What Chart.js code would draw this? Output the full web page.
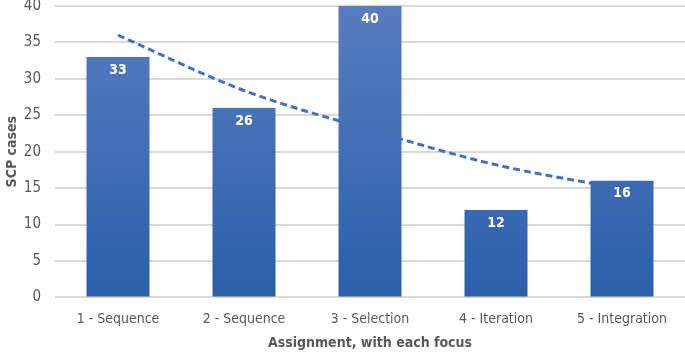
<!DOCTYPE html>
<html>
<head>
<meta charset="utf-8">
<script src="https://cdn.jsdelivr.net/npm/chart.js@4"></script>
<style>
  html, body { margin: 0; padding: 0; background: #fff; }
  #wrap { width: 685px; height: 354px; }
</style>
</head>
<body>
<div id="wrap"><canvas id="barChart"></canvas></div>
<script>
var categories = ['1 - Sequence', '2 - Sequence', '3 - Selection', '4 - Iteration', '5 - Integration'];
var scpCases = [33, 26, 40, 12, 16];
var trendValues = [36, 28.4, 23, 18.2, 14.9];
var yTicks = [0, 5, 10, 15, 20, 25, 30, 35, 40];

var fontFamily = '"DejaVu Sans Condensed", "Liberation Sans Narrow", "Liberation Sans", sans-serif';
var textGrey = '#595959';

// white numbers just under the top of each bar
var barLabels = {
    id: 'barLabels',
    afterDatasetsDraw: function (chart) {
        var ctx = chart.ctx;
        var meta = chart.getDatasetMeta(0);
        ctx.save();
        ctx.fillStyle = '#ffffff';
        ctx.font = 'bold 14px ' + fontFamily;
        ctx.textAlign = 'center';
        ctx.textBaseline = 'middle';
        meta.data.forEach(function (bar, i) {
            ctx.fillText(scpCases[i], bar.x, bar.y + 13);
        });
        ctx.restore();
    }
};

function barGradient(context) {
    var area = context.chart.chartArea;
    if (!area) return '#3a68b4';
    var g = context.chart.ctx.createLinearGradient(0, area.top, 0, area.bottom);
    g.addColorStop(0, '#587cc0');
    g.addColorStop(1, '#2a5faa');
    return g;
}

var barChartCanvas = document.getElementById('barChart').getContext('2d');
var barChart = new Chart(barChartCanvas, {
    data: {
        labels: categories,
        datasets: [
            {
                type: 'bar',
                data: scpCases,
                backgroundColor: barGradient,
                barPercentage: 0.5,
                categoryPercentage: 1,
                order: 0
            },
            {
                type: 'line',
                data: trendValues,
                borderColor: '#4472c4',
                borderWidth: 3,
                borderDash: [7, 4],
                pointRadius: 0,
                fill: false,
                cubicInterpolationMode: 'monotone',
                order: 2
            }
        ]
    },
    options: {
        responsive: true,
        maintainAspectRatio: false,
        animation: false,
        layout: { padding: { top: 0, right: 0, left: 4, bottom: 2 } },
        plugins: { legend: { display: false }, tooltip: { enabled: false } },
        scales: {
            x: {
                grid: { display: false },
                border: { display: false },
                ticks: { color: textGrey, font: { family: fontFamily, size: 14 }, padding: 6 },
                title: {
                    display: true, text: 'Assignment, with each focus', color: textGrey,
                    font: { family: fontFamily, size: 14, weight: 'bold' }, padding: { top: 1, bottom: 0 }
                }
            },
            y: {
                min: 0, max: 40,
                afterBuildTicks: function (axis) {
                    axis.ticks = yTicks.map(function (v) { return { value: v }; });
                },
                afterFit: function (axis) {
                    axis.width = 51;
                    axis.paddingTop = 6;
                    axis.paddingBottom = 0;
                },
                grid: { color: '#d9d9d9', lineWidth: 2, drawTicks: false },
                border: { display: false },
                ticks: { color: textGrey, font: { family: fontFamily, size: 15 }, padding: 14 },
                title: {
                    display: true, text: 'SCP cases', color: textGrey,
                    font: { family: fontFamily, size: 14, weight: 'bold' }, padding: { top: 0, bottom: 2 }
                }
            }
        }
    },
    plugins: [barLabels]
});
</script>
</body>
</html>
